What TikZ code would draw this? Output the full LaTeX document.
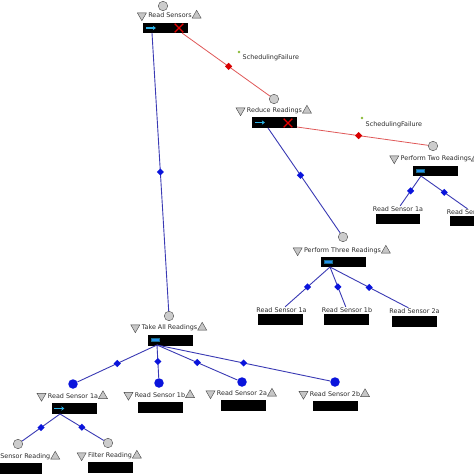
\documentclass[tikz,border=0pt]{standalone}
\usepackage{fontspec}
\setmainfont{DejaVu Sans}
\usetikzlibrary{positioning,shapes.geometric,shapes.misc,arrows.meta}
\definecolor{linkblue}{HTML}{3A3AB4}
\definecolor{dotblue}{HTML}{0A14DC}
\definecolor{failred}{HTML}{E05858}
\definecolor{txtgray}{HTML}{2A2A2A}
\definecolor{iconcyan}{HTML}{2CB4E8}
\begin{document}
\begin{tikzpicture}[x=1pt,y=-1pt,
		lbl/.style={font=\fontsize{6.4}{7}\selectfont, text=txtgray, inner sep=0.5pt},
		tri/.style={regular polygon, regular polygon sides=3, draw=gray!55!black, fill=gray!45, minimum size=10.4pt, inner sep=0pt},
		trid/.style={tri, shape border rotate=180},
		bar/.style={fill=black, minimum width=45pt, minimum height=10.5pt, inner sep=0pt},
		gnode/.style={circle, draw=gray!55!black, fill=gray!40, minimum size=9.5pt, inner sep=0pt},
		bnode/.style={circle, fill=dotblue, minimum size=9.5pt, inner sep=0pt},
		bline/.style={draw=linkblue, line width=0.9pt},
		rline/.style={draw=failred, line width=0.8pt},
		bdia/.style={diamond, fill=dotblue, minimum size=7.5pt, inner sep=0pt},
		rdia/.style={diamond, fill=red!85!black, minimum size=7.5pt, inner sep=0pt},
		fdot/.style={circle, fill=yellow!55!green!85!black, minimum size=2.6pt, inner sep=0pt},
		dashicon/.style={fill=iconcyan!80!blue, draw=iconcyan!60!black, line width=0.3pt, minimum width=8pt, minimum height=3pt, inner sep=0pt},
		xmark/.style={cross out, draw=red!90!black, line width=1.2pt, minimum size=7.5pt, inner sep=0pt},
		runarrow/.style={draw=iconcyan, line width=1.1pt, -{Stealth[length=3pt,width=4.5pt]}},
		]
		\fill[white] (0,0) rectangle (474,474);
		\useasboundingbox (0,0) rectangle (474,474);

		%% Read Sensors
		\node[gnode] (rs-c) at (163,6) {};
		\node[lbl] (rs-l) at (170,15.5) {Read Sensors};
		\node[trid, left=2.5pt of rs-l] {};
		\node[tri, right=1pt of rs-l] {};
		\node[bar] (rs-b) at (165.5,28) {};
		\coordinate (rs-a) at ([xshift=3pt]rs-b.west);
		\draw[runarrow] (rs-a) -- ++(10,0);
		\node[xmark] (rs-x) at (179,28) {};
		\coordinate (rs-p1) at (152,33);
		\coordinate (rs-p2) at (182,33);

		%% Reduce Readings
		\node[gnode] (rr-c) at (274,99) {};
		\node[lbl] (rr-l) at (274.5,110.5) {Reduce Readings};
		\node[trid, left=2.5pt of rr-l] {};
		\node[tri, right=1pt of rr-l] {};
		\node[bar] (rr-b) at (274.5,122.5) {};
		\coordinate (rr-a) at ([xshift=3pt]rr-b.west);
		\draw[runarrow] (rr-a) -- ++(10,0);
		\node[xmark] (rr-x) at (288,123) {};
		\coordinate (rr-p1) at (268,128);
		\coordinate (rr-p2) at (297,127);
		\node[fdot] (sf1-d) at (239,52) {};
		\node[lbl, anchor=west] (sf1) at (242,58) {SchedulingFailure};

		%% Perform Two Readings
		\node[gnode] (pt-c) at (433,146) {};
		\node[lbl, anchor=west] (pt-l) at (400,158.5) {Perform Two Readings};
		\node[trid, left=2.5pt of pt-l] {};
		\node[tri, right=0.5pt of pt-l] {};
		\node[bar] (pt-b) at (435,171) {};
		\node[dashicon] (pt-i) at (420,170.5) {};
		\coordinate (pt-p) at (421,176);
		\node[fdot] (sf2-d) at (362,118) {};
		\node[lbl, anchor=west] (sf2) at (365,125) {SchedulingFailure};
		\node[lbl] (pt-k1) at (398,209) {Read Sensor 1a};
		\node[bar, minimum width=44pt] (pt-k1b) at (398,219) {};
		\node[lbl] (pt-k2) at (472,212) {Read Sensor 2a};
		\node[bar] (pt-k2b) at (472,221) {};

		%% Perform Three Readings
		\node[gnode] (p3-c) at (343,237) {};
		\node[lbl] (p3-l) at (342.5,250.5) {Perform Three Readings};
		\node[trid, left=2.5pt of p3-l] {};
		\node[tri, right=1pt of p3-l] {};
		\node[bar] (p3-b) at (343,262) {};
		\node[dashicon] (p3-i) at (328,262) {};
		\coordinate (p3-p) at (330,267);
		\node[lbl] (p3-k1) at (281.5,310) {Read Sensor 1a};
		\node[bar] (p3-k1b) at (280.5,319.5) {};
		\node[lbl] (p3-k2) at (347,310) {Read Sensor 1b};
		\node[bar] (p3-k2b) at (346,319.5) {};
		\node[lbl] (p3-k3) at (414.5,311) {Read Sensor 2a};
		\node[bar] (p3-k3b) at (414.5,321.5) {};

		%% Take All Readings
		\node[gnode] (ta-c) at (169,316) {};
		\node[lbl] (ta-l) at (169.5,327.5) {Take All Readings};
		\node[trid, left=2.5pt of ta-l] {};
		\node[tri, right=1pt of ta-l] {};
		\node[bar] (ta-b) at (170,340.5) {};
		\node[dashicon] (ta-i) at (155,340) {};
		\coordinate (ta-p) at (157,345);

		%% the four sensors under Take All Readings
		\node[bnode] (ta-k1) at (73,384) {};
		\node[lbl] (ta-k1l) at (73,396) {Read Sensor 1a};
		\node[trid, left=2.5pt of ta-k1l] {};
		\node[tri, right=1pt of ta-k1l] {};
		\node[bar] (ta-k1b) at (74,408.5) {};
		\coordinate (ta-k1a) at ([xshift=3pt]ta-k1b.west);
		\draw[runarrow] (ta-k1a) -- ++(10,0);
		\coordinate (ta-k1p) at (60,414);

		\node[bnode] (ta-k2) at (159,383) {};
		\node[lbl] (ta-k2l) at (160,395) {Read Sensor 1b};
		\node[trid, left=2.5pt of ta-k2l] {};
		\node[tri, right=1pt of ta-k2l] {};
		\node[bar] (ta-k2b) at (160.5,407.5) {};

		\node[bnode] (ta-k3) at (242,382) {};
		\node[lbl] (ta-k3l) at (242,393.5) {Read Sensor 2a};
		\node[trid, left=2.5pt of ta-k3l] {};
		\node[tri, right=1pt of ta-k3l] {};
		\node[bar] (ta-k3b) at (243,405.5) {};

		\node[bnode] (ta-k4) at (335,382) {};
		\node[lbl] (ta-k4l) at (335,394) {Read Sensor 2b};
		\node[trid, left=2.5pt of ta-k4l] {};
		\node[tri, right=1pt of ta-k4l] {};
		\node[bar] (ta-k4b) at (335.5,406) {};

		%% below Read Sensor 1a
		\node[gnode] (rd-c) at (18,444) {};
		\node[lbl, anchor=east] (rd-l) at (51,456.5) {Sensor Reading};
		\node[tri, right=1pt of rd-l] {};
		\node[bar] (rd-b) at (19.5,468.5) {};
		\node[gnode] (fr-c) at (108,443) {};
		\node[lbl] (fr-l) at (110,455.5) {Filter Reading};
		\node[trid, left=2.5pt of fr-l] {};
		\node[tri, right=1pt of fr-l] {};
		\node[bar] (fr-b) at (110,467.5) {};

		%% connectors
		\draw[bline] (rs-p1) -- node[bdia]{} (ta-c);
		\draw[rline] (rs-p2) -- node[rdia, pos=0.53]{} (rr-c);
		\draw[rline] (rr-p2) -- node[rdia, pos=0.47]{} (pt-c);
		\draw[bline] (rr-p1) -- node[bdia, pos=0.45]{} (p3-c);
		\draw[bline] (pt-p) -- node[bdia]{} (pt-k1);
		\draw[bline] (pt-p) -- node[bdia]{} (pt-k2);
		\foreach \k in {p3-k1,p3-k2,p3-k3}
			\draw[bline] (p3-p) -- node[bdia]{} (\k);
		\foreach \k in {ta-k1,ta-k2,ta-k3,ta-k4}
			\draw[bline] (ta-p) -- node[bdia]{} (\k);
		\draw[bline] (ta-k1p) -- node[bdia]{} (rd-c);
		\draw[bline] (ta-k1p) -- node[bdia]{} (fr-c);
	\end{tikzpicture}
\end{document}
